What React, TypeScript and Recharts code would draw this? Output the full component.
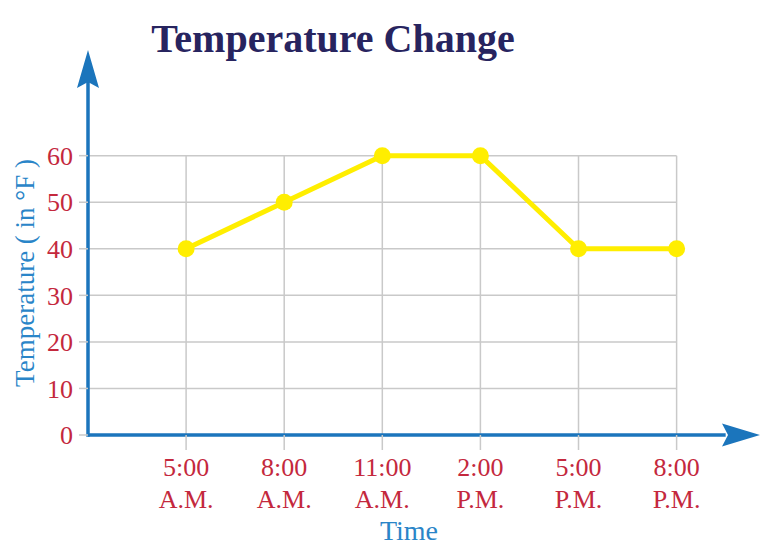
import React from "react";
import { LineChart, Line, XAxis, YAxis, ReferenceLine, ReferenceDot } from "recharts";

const times = ["5:00", "8:00", "11:00", "2:00", "5:00", "8:00"];
const periods = ["A.M.", "A.M.", "A.M.", "P.M.", "P.M.", "P.M."];
const temperatures = [40, 50, 60, 60, 40, 40];
const yTicks = [0, 10, 20, 30, 40, 50, 60];
const xPositions = [1, 2, 3, 4, 5, 6];

const data = temperatures.map((t, i) => ({ x: xPositions[i], temp: t }));

const X_MAX = 6.85;
const Y_MAX = 82.7;
const FONT = "'Liberation Serif', 'Times New Roman', serif";
const AXIS = "#1b75bc";
const GRID = "#c9c9c9";
const TICK = "#c4283d";

const XTick = (props: any) => {
  const { x, y, payload } = props;
  const i = xPositions.indexOf(payload.value);
  if (i < 0) return null;
  return (
    <text x={x} y={y} textAnchor="middle" fill={TICK} fontSize={26} fontFamily={FONT}>
      <tspan x={x} dy="0.68em">{times[i]}</tspan>
      <tspan x={x} dy={32}>{periods[i]}</tspan>
    </text>
  );
};

const XArrow = (props: any) => {
  const { cx, cy } = props;
  return <path d={`M${cx},${cy} L${cx - 38},${cy - 11.5} L${cx - 32},${cy} L${cx - 38},${cy + 11.5} Z`} fill={AXIS} />;
};
const YArrow = (props: any) => {
  const { cx, cy } = props;
  return <path d={`M${cx},${cy} L${cx - 11},${cy + 38} L${cx},${cy + 32} L${cx + 11},${cy + 38} Z`} fill={AXIS} />;
};

export default function App() {
  return (
    <div style={{ position: "absolute", left: 0, top: 0, width: 768, height: 558, background: "#fff" }}>
      <LineChart width={768} height={558} data={data} margin={{ top: 50, right: 8, bottom: 63, left: 0 }}>
        <XAxis
          dataKey="x"
          type="number"
          domain={[0, X_MAX]}
          ticks={xPositions}
          axisLine={false}
          tickLine={{ stroke: GRID, strokeWidth: 1.5 }}
          tickSize={15}
          tickMargin={8}
          height={60}
          tick={<XTick />}
          interval={0}
        />
        <YAxis
          type="number"
          domain={[0, Y_MAX]}
          ticks={yTicks}
          axisLine={false}
          tickLine={{ stroke: GRID, strokeWidth: 1.5 }}
          tickSize={9}
          tickMargin={6}
          width={88}
          tick={{ fill: TICK, fontSize: 26, fontFamily: FONT }}
          interval={0}
        />
        {yTicks.filter((v) => v > 0).map((v) => (
          <ReferenceLine key={"h" + v} segment={[{ x: 0, y: v }, { x: 6, y: v }]} stroke={GRID} strokeWidth={1.5} ifOverflow="visible" />
        ))}
        {xPositions.map((v) => (
          <ReferenceLine key={"v" + v} segment={[{ x: v, y: 0 }, { x: v, y: 60 }]} stroke={GRID} strokeWidth={1.5} ifOverflow="visible" />
        ))}
        <ReferenceLine segment={[{ x: 0, y: 0 }, { x: 6.5, y: 0 }]} stroke={AXIS} strokeWidth={3.5} ifOverflow="visible" />
        <ReferenceLine segment={[{ x: 0, y: -0.37 }, { x: 0, y: 76 }]} stroke={AXIS} strokeWidth={3.5} ifOverflow="visible" />
        <ReferenceDot x={X_MAX} y={0} r={1} ifOverflow="visible" shape={<XArrow />} />
        <ReferenceDot x={0} y={Y_MAX} r={1} ifOverflow="visible" shape={<YArrow />} />
        <Line
          dataKey="temp"
          stroke="#ffee00"
          strokeWidth={5}
          dot={{ r: 8.5, fill: "#ffee00", stroke: "#ffee00", strokeWidth: 0 }}
          activeDot={false}
          isAnimationActive={false}
        />
      </LineChart>
      <svg width={768} height={558} style={{ position: "absolute", left: 0, top: 0, pointerEvents: "none" }}>
        <text x={333} y={52} textAnchor="middle" fontSize={40} fontWeight="bold" fill="#27245f" fontFamily={FONT}>
          Temperature Change
        </text>
        <text x={34} y={273} textAnchor="middle" fontSize={27} fill="#2a85c8" fontFamily={FONT} transform="rotate(-90, 34, 273)">
          Temperature ( in °F )
        </text>
        <text x={409} y={540} textAnchor="middle" fontSize={28} fill="#2a85c8" fontFamily={FONT}>
          Time
        </text>
      </svg>
    </div>
  );
}
